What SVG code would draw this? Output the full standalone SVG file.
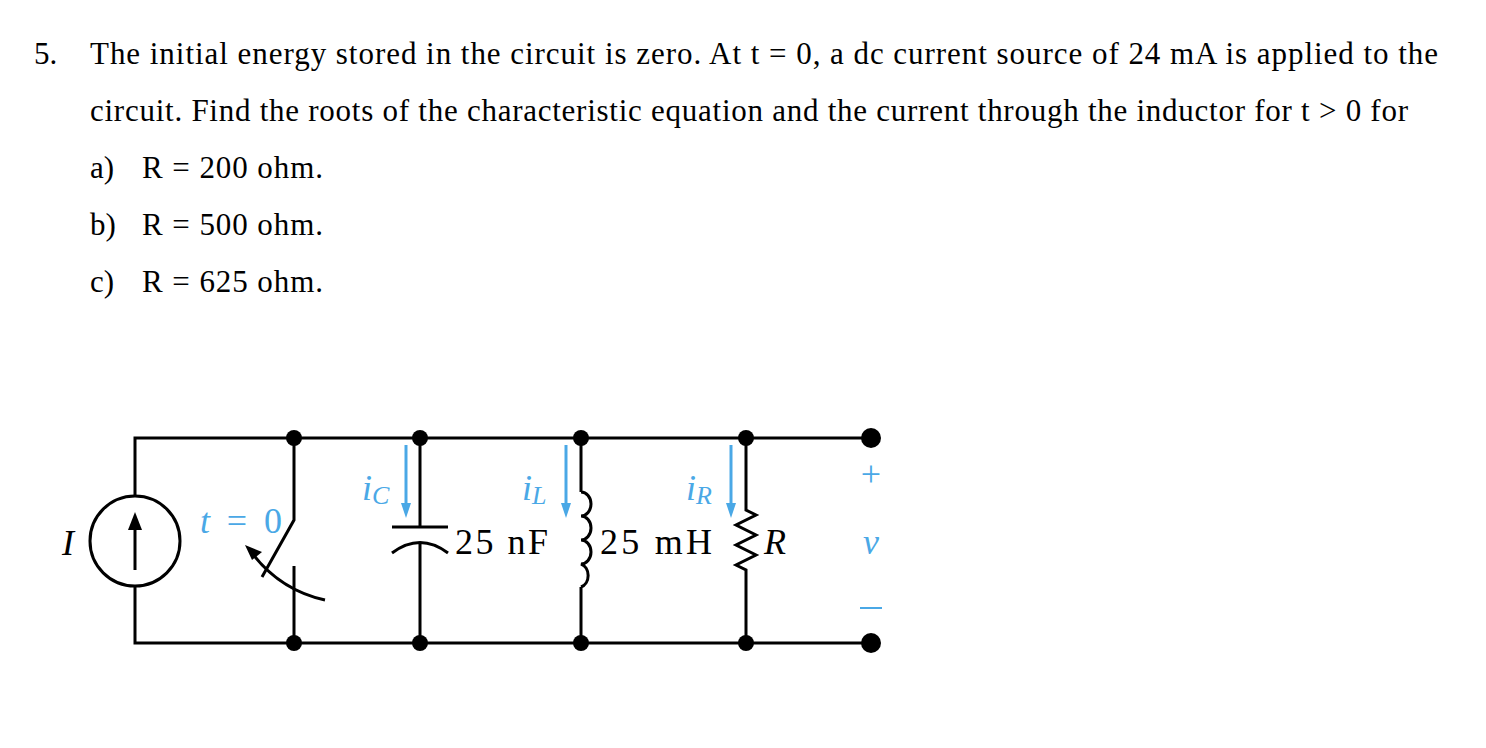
<svg xmlns="http://www.w3.org/2000/svg" width="1486" height="748" viewBox="0 0 1486 748">
<style>
.t{font-family:"Liberation Serif",serif;font-size:31px;fill:#000}
.c{font-family:"Liberation Serif",serif;font-size:36px;fill:#000}
.w{stroke:#000;stroke-width:3;fill:none}
.b{stroke:#4aa8e6;stroke-width:3;fill:none}
.bl{font-family:"Liberation Serif",serif;fill:#4aa8e6}
.d{fill:#000}
</style>
<rect width="1486" height="748" fill="#fff"/>
<g id="text">
<text class="t" x="34" y="64">5.</text>
<text class="t" x="90" y="64" textLength="1348" lengthAdjust="spacing">The initial energy stored in the circuit is zero. At t = 0, a dc current source of 24 mA is applied to the</text>
<text class="t" x="90" y="121" textLength="1318" lengthAdjust="spacing">circuit. Find the roots of the characteristic equation and the current through the inductor for t &gt; 0 for</text>
<text class="t" x="90" y="178">a)</text><text class="t" x="142" y="178" textLength="181">R = 200 ohm.</text>
<text class="t" x="90" y="235">b)</text><text class="t" x="142" y="235" textLength="181">R = 500 ohm.</text>
<text class="t" x="90" y="292">c)</text><text class="t" x="142" y="292" textLength="181">R = 625 ohm.</text>
</g>
<g id="connectors">
<path class="w" d="M871,438 H135 V496 M135,586 V643 H871"/>
<path class="w" d="M294,438 V520 L262,577 M294,566 V643"/>
<path class="w" d="M420,438 V527 M392,527 H448 M420,543 V643 M392,553 Q420,532 448,553"/>
<path class="w" d="M581,438 V492 M581,587 V643 M581,492 a10,12 0 0 1 0,24 a10,12 0 0 1 0,24 a10,12 0 0 1 0,24 a10,12 0 0 1 0,23"/>
<path class="w" d="M746,438 V510 l10,5 l-20,10 l20,10 l-20,10 l20,10 l-20,10 l10,5 V643"/>
</g>
<g id="source">
<circle class="w" cx="135" cy="541" r="45"/>
<path class="w" d="M135,570 V528"/>
<path d="M128,530 L135,512 L142,530 Z" class="d"/>
<text x="62" y="555" font-family="Liberation Serif,serif" font-style="italic" font-size="36">I</text>
</g>
<g id="switch">
<path class="w" stroke-width="2" d="M325,600 Q280,590 252,553"/>
<path class="d" d="M245,545 L262,552 L252,560 Z"/>
<text class="bl" x="200" y="533" font-size="36" textLength="82" lengthAdjust="spacing"><tspan font-style="italic">t</tspan> = 0</text>
</g>
<g id="currents">
<path class="b" d="M406,445 V505"/><path d="M401,503 L406,518 L411,503 Z" fill="#4aa8e6"/>
<text class="bl" x="362" y="500" font-size="36" font-style="italic">i<tspan font-size="26" dy="4">C</tspan></text>
<path class="b" d="M566,445 V505"/><path d="M561,503 L566,518 L571,503 Z" fill="#4aa8e6"/>
<text class="bl" x="522" y="500" font-size="36" font-style="italic">i<tspan font-size="26" dy="4">L</tspan></text>
<path class="b" d="M731,445 V505"/><path d="M726,503 L731,518 L736,503 Z" fill="#4aa8e6"/>
<text class="bl" x="686" y="500" font-size="36" font-style="italic">i<tspan font-size="26" dy="4">R</tspan></text>
</g>
<g id="labels">
<text class="c" x="455" y="554" textLength="93">25 nF</text>
<text class="c" x="600" y="554" textLength="112">25 mH</text>
<text x="764" y="554" font-family="Liberation Serif,serif" font-style="italic" font-size="36">R</text>
<text x="871" y="486" text-anchor="middle" class="bl" font-size="36">+</text>
<text x="871" y="554" text-anchor="middle" class="bl" font-size="36" font-style="italic">v</text>
<path d="M860,608 H882" stroke="#4aa8e6" stroke-width="2"/>
</g>
<g id="nodes">
<circle class="d" cx="294" cy="438" r="8"/><circle class="d" cx="420" cy="438" r="8"/><circle class="d" cx="581" cy="438" r="8"/><circle class="d" cx="746" cy="438" r="8"/><circle class="d" cx="871" cy="438" r="10"/>
<circle class="d" cx="294" cy="643" r="8"/><circle class="d" cx="420" cy="643" r="8"/><circle class="d" cx="581" cy="643" r="8"/><circle class="d" cx="746" cy="643" r="8"/><circle class="d" cx="871" cy="643" r="10"/>
</g>
</svg>
